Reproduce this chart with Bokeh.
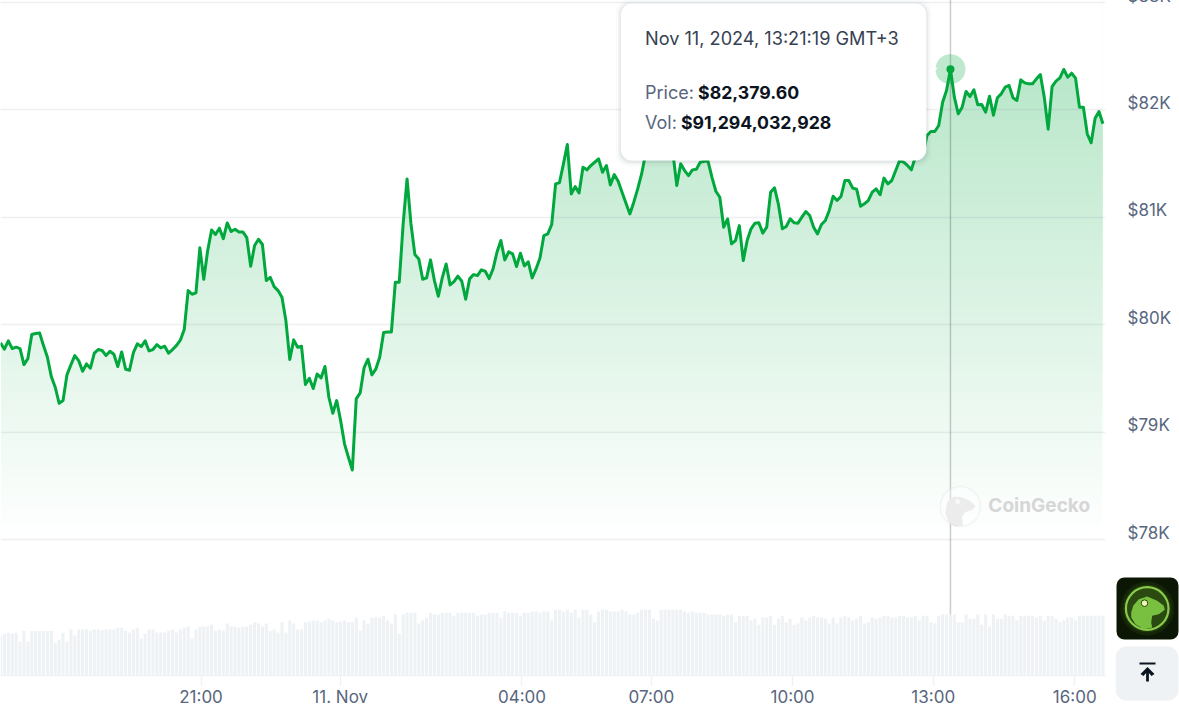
import numpy as np
from bokeh.embed import file_html
from bokeh.layouts import row
from bokeh.models import (BoxAnnotation, FixedTicker, Grid, Label, LinearAxis,
                          Range1d)
from bokeh.plotting import figure
from bokeh.resources import INLINE

# 5-minute samples (USD)
price = [
    79831, 79772, 79850, 79778, 79791, 79778, 79629, 79685, 79909, 79918,
    79924, 79806, 79698, 79517, 79418, 79269, 79294, 79533, 79626, 79713,
    79666, 79567, 79635, 79595, 79735, 79769, 79760, 79713, 79753, 79725,
    79611, 79747, 79586, 79576, 79741, 79822, 79797, 79850, 79756, 79769,
    79815, 79784, 79800, 79735, 79769, 79806, 79856, 79955, 80318, 80284,
    80296, 80716, 80424, 80691, 80883, 80840, 80899, 80802, 80948, 80868,
    80889, 80864, 80864, 80812, 80545, 80737, 80796, 80747, 80411, 80442,
    80355, 80318, 80256, 80039, 79676, 79859, 79791, 79800, 79443, 79502,
    79406, 79542, 79505, 79611, 79325, 79176, 79294, 79108, 78891, 78766,
    78648, 79310, 79365, 79598, 79679, 79533, 79586, 79698, 79927, 79933,
    79933,
    80396, 80396, 80939, 81358, 80939, 80653, 80613, 80424, 80436, 80604,
    80411, 80265, 80436, 80566, 80371, 80402, 80452, 80405, 80237, 80427,
    80467, 80458, 80511, 80498, 80430, 80520, 80675, 80784, 80604, 80678,
    80660, 80542, 80666, 80548, 80585, 80436, 80520, 80622, 80830, 80846,
    80933, 81311, 81324, 81498, 81678, 81218, 81286, 81227, 81466, 81442,
    81482, 81513, 81544, 81420, 81482, 81302, 81398, 81336, 81234, 81131,
    81032, 81141, 81265, 81404,
    81590, 81720, 81800, 81760, 81850, 81750, 81680, 81600,
    81296, 81498, 81435, 81389, 81442, 81448, 81513, 81522, 81522, 81373,
    81243, 81187, 80908, 80985, 80753, 80784, 80923, 80597,
    80784, 80893, 80946, 80949, 80853, 80908, 81234, 81275, 81120, 80893,
    80915, 80986, 80949, 80946, 81002, 81054, 81017, 80908, 80846, 80933,
    80971, 81064, 81197, 81157, 81194, 81343, 81343, 81272, 81262, 81104,
    81126, 81157, 81234, 81265, 81210, 81365, 81312, 81343, 81436, 81529,
    81514, 81483, 81442, 81560, 81560, 81591, 81762, 81799, 81799, 81855,
    82072, 82181, 82379.6, 82119, 81964, 82026, 82172, 82125, 82187, 82048,
    82051, 81979, 82128, 81951, 82113, 82150, 82212, 82228, 82113, 82088,
    82280, 82252, 82243, 82243, 82290, 82330, 82119, 81821, 82218, 82268,
    82299, 82377, 82305, 82342, 82296, 82026, 82026, 81778, 81694, 81923,
    81985, 81871,
]

# trading volume per sample, billions of USD
volume = [
    59.6, 62.1, 63.6, 62.1, 63.6, 50.5, 66.7, 50.5, 66.2, 66.2,
    66.2, 66.2, 66.2, 66.2, 48.5, 53, 63.6, 50.5, 68.7, 59.6,
    68.7, 68.7, 68.7, 66.2, 68.7, 68.7, 67.5, 68.7, 68.7, 68.7,
    71.2, 71.2, 66.7, 64.1, 68.7, 71.2, 55, 62.1, 68.7, 68.7,
    64.1, 64.1, 64.1, 66.7, 68.7, 64.1, 68.7, 71.2, 73.2, 55,
    68.7, 73.2, 73.2, 73.2, 75.8, 66.7, 68.7, 66.7, 77.8, 73.2,
    73.2, 71.2, 73.2, 73.2, 75.8, 79.8, 77.8, 73.2, 77.8, 66.7,
    68.7, 64.1, 79.8, 64.1, 82.3, 77.8, 68.7,
    68.7, 79.8, 80.8, 82.3, 82.3, 79.8, 82.3, 84.8, 82.3, 79.8,
    80.8, 82.3, 79.8, 79.8, 86.9, 66.7, 82.3, 77.8, 86.9, 86.9,
    86.9, 89.4, 82.3, 77.8, 91.4, 62.1, 91.4, 94, 94, 94,
    77.8, 82.3, 86.9, 94, 91.4, 91.4, 94, 94, 94, 89.4,
    94, 94, 94, 94, 94, 89.4, 91.4, 91.4, 94, 94,
    94, 86.9, 96, 94, 94, 94, 89.4, 94, 94, 96,
    96, 94, 96, 96, 82.3, 98.5, 98.5, 96, 98.5, 94,
    98.5, 86.9, 98.5, 98.5, 91.4, 79.8, 96,
    98.5, 98.5, 96, 96, 96, 98.5, 96, 91.4, 91.4, 94,
    98.5, 98.5, 98.5, 84.8, 82.3, 98.5, 98.5, 98.5, 98.5, 98.5,
    98.5, 96, 94, 96, 94, 94, 94, 91.4, 91.4, 91.4,
    91.4, 89.4, 91.4, 91.4, 79.8, 89.4, 89.4, 89.4, 82.3, 84.8,
    75.8, 86.9, 86.9, 89.4, 75.8, 84.8, 89.4, 79.8, 84.8, 75.8,
    77.8, 86.9, 82.3, 86.9, 89.4, 86.9, 86.9, 84.8, 77.8, 86.9,
    77.8, 86.9, 89.4, 86.9, 82.3, 84.8, 89.4, 77.8, 79.8, 86.9,
    84.8, 86.9, 89.4, 89.4, 86.9, 86.9, 89.4, 89.4, 86.9, 86.9,
    89.4, 82.3, 89.4, 89.4, 79.8, 77.8, 89.4, 91.4, 91.4, 91.29,
    91.4, 79.8, 79.8, 91.4, 84.8, 84.8, 91.4, 75.8, 91.4, 73.2,
    91.4, 84.8, 84.8, 91.4, 89.4, 89.4, 82.3, 89.4, 89.4, 89.4,
    89.4, 86.9, 89.4, 82.3, 89.4, 89.4, 84.8, 79.8, 82.3, 86.9,
    86.9, 82.3, 89.4, 89.4, 89.4, 89.4, 89.4, 89.4, 89.4,
]
assert len(price) == len(volume) == 283, (len(price), len(volume))

price_ticks = [78000, 79000, 80000, 81000, 82000, 83000]
price_tick_labels = ["$78K", "$79K", "$80K", "$81K", "$82K", "$83K"]
time_ticks = [51.3, 86.9, 133.4, 166.5, 202.6, 238.6, 274.8]
time_tick_labels = ["21:00", "11. Nov", "04:00", "07:00", "10:00", "13:00", "16:00"]
hover_index = 243

LINE = "#00a83e"
GREY = "#58667e"
TRACK = "#eff2f5"
FONT = "Inter"


# reference-pixel helpers, used only for decoration placement
def X(px):
    return (px - 1.2) / 3.905


def Y(py):
    return 83019 - 9.311 * py


p = figure(width=1179, height=742, output_backend="svg", toolbar_location=None,
           x_range=Range1d(0, X(1105)), y_range=Range1d(Y(675), Y(-20)),
           x_axis_location="below", y_axis_location=None,
           min_border_left=0, min_border_right=74, min_border_top=0,
           min_border_bottom=47, outline_line_color=None,
           margin=(-20, 0, 0, 0))
p.frame_width = 1105
p.frame_height = 695
p.xgrid.visible = False
p.ygrid.visible = False
p.extra_y_ranges = {
    "vol": Range1d(-1.06, 1052),
    "labels": Range1d(Y(682), Y(-13)),
}

# axes
ax = p.xaxis[0]
ax.ticker = FixedTicker(ticks=time_ticks)
ax.major_label_overrides = dict(zip(time_ticks, time_tick_labels))
ax.axis_line_color = TRACK
ax.axis_line_width = 1.5
ax.major_tick_line_color = TRACK
ax.major_tick_line_width = 1.5
ax.major_tick_out = 10
ax.major_tick_in = 0
ax.minor_tick_line_color = None
ax.major_label_text_color = GREY
ax.major_label_text_font = FONT
ax.major_label_text_font_size = "17px"
ax.major_label_standoff = 1

ay = LinearAxis(y_range_name="labels", ticker=FixedTicker(ticks=price_ticks),
                major_label_overrides=dict(zip(price_ticks, price_tick_labels)))
ay.axis_line_color = None
ay.major_tick_line_color = None
ay.minor_tick_line_color = None
ay.major_tick_in = 0
ay.major_tick_out = 0
ay.major_label_text_color = GREY
ay.major_label_text_font = FONT
ay.major_label_text_font_size = "17px"
ay.major_label_standoff = 22
p.add_layout(ay, "right")

p.add_layout(Grid(dimension=1, ticker=FixedTicker(ticks=price_ticks),
                  grid_line_color=GREY, grid_line_alpha=0.1, grid_line_width=1.5))

# gradient under the price line: painter-ordered bands, then white above the line
x = np.arange(len(price))
levels = np.arange(78000, 82800, 40.0)
alpha = np.clip(0.28 * (levels - 78000) / 4400, 0, 1)
rgb = (0, 168, 62)
band_colors = ["#%02x%02x%02x" % tuple(int(round(255 - (255 - c) * a)) for c in rgb) for a in alpha]
p.quad(left=0.2, right=x[-1] - 0.2, bottom=levels, top=Y(-20), fill_color=band_colors,
       line_color=None, level="image")
p.varea(x=x, y1=price, y2=np.full(len(price), Y(-20)), fill_color="white", level="image")

# volume
p.vbar(x=x, top=volume, bottom=0, width=0.8, fill_color=TRACK, line_color=None,
       y_range_name="vol")

# crosshair, line, hover marker
p.segment(x0=[hover_index], x1=[hover_index], y0=[volume[hover_index]], y1=[1052],
          line_color="black", line_alpha=0.2, line_width=1.5, y_range_name="vol")
p.line(x, price, line_color=LINE, line_width=3, line_join="round")
p.scatter([hover_index], [price[hover_index]], size=30, fill_color=LINE, fill_alpha=0.25,
          line_color=None)
p.scatter([hover_index], [price[hover_index]], size=8, fill_color=LINE, line_color=None)


def box(l, r, t, b, fill, alpha=1.0, radius=0, line=None, lw=1, level="overlay"):
    p.add_layout(BoxAnnotation(left=X(l), right=X(r), top=Y(t), bottom=Y(b), fill_color=fill,
                               fill_alpha=alpha, line_color=line, line_width=lw,
                               border_radius=radius, level=level))


def text(px, py, s, size, color, style="normal", font=FONT, align="left"):
    p.add_layout(Label(x=X(px), y=Y(py), text=s, text_font=font, text_font_size=size,
                       text_color=color, text_font_style=style, text_align=align,
                       text_baseline="middle", level="overlay"))


# watermark
box(940, 980, 486, 526, "#ffffff", 0.35, 20, "#dfdfdf", 1.5, "guide")
head_x = [945, 946.7, 953.3, 961.7, 970, 975.3, 971.7, 965, 961.7, 962.7, 955, 948.3]
head_y = [513.3, 501.7, 496, 496.7, 500.7, 506, 509.3, 511.7, 516.7, 525, 526, 521.7]
p.patch([X(v) for v in head_x], [Y(v) for v in head_y], fill_color="#e2e2e2", line_color=None,
        level="guide")
p.scatter([X(957.3)], [Y(501)], size=5, fill_color="#f4f4f4", line_color=None, level="guide")
text(988, 505, "CoinGecko", "19px", "#d6d6d6", "bold")

# tooltip
for grow, a in ((5, 0.025), (3, 0.04), (1.5, 0.06)):
    box(621 - grow, 926 + grow, 3 - grow + 1, 160 + grow + 1, "#334155", a, 12)
p.patch([X(925), X(937), X(925)], [Y(57), Y(68), Y(80)], fill_color="white",
        line_color=None, level="overlay")
box(621, 926, 3, 160, "white", 1, 11)
text(645, 37.5, "Nov 11, 2024, 13:21:19 GMT+3", "18.15px", "#364152")
text(645, 91.5, "Price:", "18px", GREY)
text(698, 91.5, "$82,379.60", "17.7px", "#0d1421", "bold")
text(645, 121.5, "Vol:", "18px", GREY)
text(681, 121.5, "$91,294,032,928", "17.7px", "#0d1421", "bold")

# gecko badge and back-to-top button, a small figure laid over the right margin
b = figure(width=64, height=126, output_backend="svg", toolbar_location=None,
           x_range=Range1d(1115, 1179), y_range=Range1d(702, 576),
           x_axis_location=None, y_axis_location=None,
           min_border_left=0, min_border_right=0, min_border_top=0, min_border_bottom=0,
           outline_line_color=None, background_fill_alpha=0, border_fill_alpha=0,
           margin=(576, 0, 0, -64))
b.frame_width = 64
b.frame_height = 126
b.grid.visible = False


def bbox(l, r, t, bt, fill, radius=0):
    b.add_layout(BoxAnnotation(left=l, right=r, top=t, bottom=bt, fill_color=fill, fill_alpha=1,
                               line_color=None, border_radius=radius, level="underlay"))


bbox(1116, 1178, 577, 639, "#0c1605", 8)
for rad, col in ((27, "#142508"), (24, "#1e380c")):
    b.circle([1146.7], [608], radius=rad, fill_color=col, line_color=None)
b.circle([1146.7], [608], radius=21.3, fill_color="#2b4a12", line_color="#8acb4c", line_width=2.2)
b.patch([1130.7, 1132.7, 1138.3, 1146.7, 1156.7, 1163.3, 1164.3, 1158.3, 1151.7, 1150.7, 1151.7,
         1143.3, 1135, 1130.7],
        [612, 605.3, 598.7, 596, 600.3, 605.3, 609.3, 613.7, 615.3, 622, 627, 628.7, 623.7, 617],
        fill_color="#79bf40", line_color=None)
b.circle([1144], [602.7], radius=3.3, fill_color="#eef7b0", line_color="#2b4a12", line_width=1)
bbox(1115, 1178, 646, 700, TRACK, 11)
bbox(1139, 1155, 662, 664, "#0d1421")
bbox(1145.6, 1148.4, 670, 681, "#0d1421")
b.patch([1147, 1154, 1151, 1147, 1143, 1140], [666.5, 673.5, 675.5, 671, 675.5, 673.5],
        fill_color="#0d1421", line_color=None)

open("out.html", "w").write(file_html(row(p, b), INLINE))
